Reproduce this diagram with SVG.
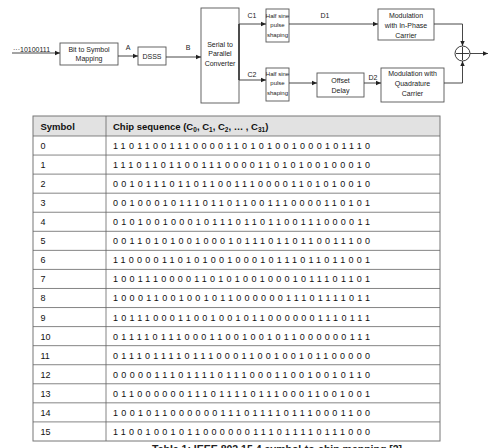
<svg xmlns="http://www.w3.org/2000/svg" width="493" height="448" viewBox="0 0 493 448">
<defs>
<marker id="ah" markerUnits="userSpaceOnUse" markerWidth="6" markerHeight="6" refX="5" refY="3" orient="auto"><path d="M0,0.8 L5,3 L0,5.2 z" fill="#222"/></marker>
<style>
.box{fill:#fff;stroke:#555;stroke-width:0.9}
.lbl{font-family:"Liberation Sans",Arial,sans-serif;font-size:7px;fill:#222;text-anchor:middle}
.sm{font-size:6px}
.cn{fill:none;stroke:#333;stroke-width:0.9}
.th{font-family:"Liberation Sans",Arial,sans-serif;font-size:9.5px;font-weight:bold;fill:#111}
.td{font-family:"Liberation Sans",Arial,sans-serif;font-size:9px;fill:#111}
.grid{stroke:#666;stroke-width:0.8}
</style>
</defs>
<rect width="493" height="448" fill="#fff"/>
<g id="input"><text class="lbl" x="13" y="51.5" style="text-anchor:start">···10100111</text></g>
<g id="bit2sym"><rect class="box" x="60" y="43" width="58" height="22"/><text class="lbl" x="89" y="51.5">Bit to Symbol</text><text class="lbl" x="89" y="61">Mapping</text></g>
<g id="dsss"><rect class="box" x="138" y="47" width="28" height="18"/><text class="lbl" x="152" y="58.5">DSSS</text></g>
<g id="s2p"><rect class="box" x="201" y="8" width="38" height="95"/><text class="lbl" x="220" y="46.5">Serial to</text><text class="lbl" x="220" y="56">Parallel</text><text class="lbl" x="220" y="66">Converter</text></g>
<g id="hs1"><rect class="box" x="266" y="9" width="23" height="33"/><text class="lbl sm" x="277.5" y="17.5">Half sine</text><text class="lbl sm" x="277.5" y="26.5">pulse</text><text class="lbl sm" x="277.5" y="36.5">shaping</text></g>
<g id="modi"><rect class="box" x="378" y="9" width="56" height="31"/><text class="lbl" x="406" y="17.5">Modulation</text><text class="lbl" x="406" y="27.5">with In-Phase</text><text class="lbl" x="406" y="38">Carrier</text></g>
<g id="hs2"><rect class="box" x="266" y="68" width="23" height="33"/><text class="lbl sm" x="277.5" y="75.5">Half sine</text><text class="lbl sm" x="277.5" y="85">pulse</text><text class="lbl sm" x="277.5" y="95">shaping</text></g>
<g id="offset"><rect class="box" x="317" y="73" width="47" height="24"/><text class="lbl" x="340.5" y="83">Offset</text><text class="lbl" x="340.5" y="92.5">Delay</text></g>
<g id="modq"><rect class="box" x="381" y="68" width="63" height="34"/><text class="lbl" x="412.5" y="75.5">Modulation with</text><text class="lbl" x="412.5" y="85.5">Quadrature</text><text class="lbl" x="412.5" y="95.5">Carrier</text></g>
<g id="sum"><circle cx="462.5" cy="53.5" r="7.5" fill="#fff" stroke="#222" stroke-width="0.9"/><path d="M462.5,47 V60 M456,53.5 H469" stroke="#222" stroke-width="0.9"/></g>
<g id="connectors">
<path class="cn" d="M12,53 H60" marker-end="url(#ah)"/>
<path class="cn" d="M118,56 H138" marker-end="url(#ah)"/>
<text class="lbl" x="128" y="50">A</text>
<path class="cn" d="M166,57 H201" marker-end="url(#ah)"/>
<text class="lbl" x="188" y="50">B</text>
<path d="M239,24 V80" stroke="#333" stroke-width="1.6"/>
<path class="cn" d="M239,24 H266" marker-end="url(#ah)"/>
<text class="lbl" x="252" y="18">C1</text>
<path class="cn" d="M289,24 H378" marker-end="url(#ah)"/>
<text class="lbl" x="325" y="18">D1</text>
<path class="cn" d="M434,24 H462.5 V46" marker-end="url(#ah)"/>
<path class="cn" d="M239,80 H266" marker-end="url(#ah)"/>
<text class="lbl" x="252" y="77">C2</text>
<path class="cn" d="M289,83 H317" marker-end="url(#ah)"/>
<path class="cn" d="M364,83 H381" marker-end="url(#ah)"/>
<text class="lbl" x="373" y="80">D2</text>
<path class="cn" d="M444,83 H462.5 V61" marker-end="url(#ah)"/>
<path class="cn" d="M470,53.5 H488" marker-end="url(#ah)"/>
</g>
<g id="table">
<rect x="33" y="116" width="407" height="20" fill="#e2e2e2"/>
<rect x="33" y="116" width="407" height="325" fill="none" stroke="#777" stroke-width="1"/>
<g class="grid">
<line x1="106" y1="116" x2="106" y2="441"/>
<line x1="33" y1="136" x2="440" y2="136"/>
<line x1="33" y1="155.06" x2="440" y2="155.06"/>
<line x1="33" y1="174.12" x2="440" y2="174.12"/>
<line x1="33" y1="193.18" x2="440" y2="193.18"/>
<line x1="33" y1="212.24" x2="440" y2="212.24"/>
<line x1="33" y1="231.3" x2="440" y2="231.3"/>
<line x1="33" y1="250.36" x2="440" y2="250.36"/>
<line x1="33" y1="269.42" x2="440" y2="269.42"/>
<line x1="33" y1="288.48" x2="440" y2="288.48"/>
<line x1="33" y1="307.54" x2="440" y2="307.54"/>
<line x1="33" y1="326.6" x2="440" y2="326.6"/>
<line x1="33" y1="345.66" x2="440" y2="345.66"/>
<line x1="33" y1="364.72" x2="440" y2="364.72"/>
<line x1="33" y1="383.78" x2="440" y2="383.78"/>
<line x1="33" y1="402.84" x2="440" y2="402.84"/>
<line x1="33" y1="421.9" x2="440" y2="421.9"/>
</g>
<text class="th" x="40.5" y="129.5">Symbol</text>
<text class="th" x="113" y="129.5">Chip sequence (C<tspan font-size="6.5" dy="2">0</tspan><tspan dy="-2">, C</tspan><tspan font-size="6.5" dy="2">1</tspan><tspan dy="-2">, C</tspan><tspan font-size="6.5" dy="2">2</tspan><tspan dy="-2">, … , C</tspan><tspan font-size="6.5" dy="2">31</tspan><tspan dy="-2">)</tspan></text>
<g class="td">
<text x="40.5" y="149">0</text><text x="113" y="149" textLength="257" lengthAdjust="spacing">11011001110000110101001000101110</text>
<text x="40.5" y="168.06">1</text><text x="113" y="168.06" textLength="257" lengthAdjust="spacing">11101101100111000011010100100010</text>
<text x="40.5" y="187.12">2</text><text x="113" y="187.12" textLength="257" lengthAdjust="spacing">00101110110110011100001101010010</text>
<text x="40.5" y="206.18">3</text><text x="113" y="206.18" textLength="257" lengthAdjust="spacing">00100010111011011001110000110101</text>
<text x="40.5" y="225.24">4</text><text x="113" y="225.24" textLength="257" lengthAdjust="spacing">01010010001011101101100111000011</text>
<text x="40.5" y="244.3">5</text><text x="113" y="244.3" textLength="257" lengthAdjust="spacing">00110101001000101110110110011100</text>
<text x="40.5" y="263.36">6</text><text x="113" y="263.36" textLength="257" lengthAdjust="spacing">11000011010100100010111011011001</text>
<text x="40.5" y="282.42">7</text><text x="113" y="282.42" textLength="257" lengthAdjust="spacing">10011100001101010010001011101101</text>
<text x="40.5" y="301.48">8</text><text x="113" y="301.48" textLength="257" lengthAdjust="spacing">10001100100101100000011101111011</text>
<text x="40.5" y="320.54">9</text><text x="113" y="320.54" textLength="257" lengthAdjust="spacing">10111000110010010110000001110111</text>
<text x="40.5" y="339.6">10</text><text x="113" y="339.6" textLength="257" lengthAdjust="spacing">01111011100011001001011000000111</text>
<text x="40.5" y="358.66">11</text><text x="113" y="358.66" textLength="257" lengthAdjust="spacing">01110111101110001100100101100000</text>
<text x="40.5" y="377.72">12</text><text x="113" y="377.72" textLength="257" lengthAdjust="spacing">00000111011110111000110010010110</text>
<text x="40.5" y="396.78">13</text><text x="113" y="396.78" textLength="257" lengthAdjust="spacing">01100000011101111011100011001001</text>
<text x="40.5" y="415.84">14</text><text x="113" y="415.84" textLength="257" lengthAdjust="spacing">10010110000001110111101110001100</text>
<text x="40.5" y="434.9">15</text><text x="113" y="434.9" textLength="257" lengthAdjust="spacing">11001001011000000111011110111000</text>
</g>
</g>
<g id="caption"><text x="152" y="453" font-family="Liberation Sans, Arial, sans-serif" font-size="10.5" font-weight="bold" fill="#222">Table 1: IEEE 802.15.4 symbol-to-chip mapping [2]</text></g>
</svg>
